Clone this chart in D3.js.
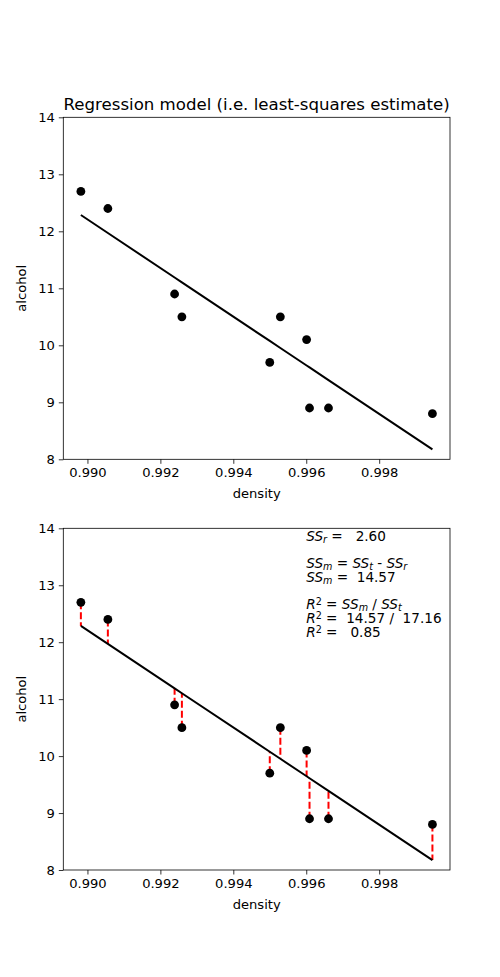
<!DOCTYPE html>
<html>
<head>
<meta charset="utf-8">
<script src="https://cdn.jsdelivr.net/npm/d3@7"></script>
<style>
  body { margin: 0; background: #fff; }
  svg { display: block; font-family: "DejaVu Sans", sans-serif; }
</style>
</head>
<body>
<div id="chart"></div>
<script>
// samples
var density = [0.98982, 0.99056, 0.99239, 0.99259, 0.99500, 0.99529, 0.99601, 0.99609, 0.99661, 0.99946];
var alcohol = [12.7, 12.4, 10.9, 10.5, 9.7, 10.5, 10.1, 8.9, 8.9, 8.8];
var xTicks = [0.990, 0.992, 0.994, 0.996, 0.998];
var yTicks = [8, 9, 10, 11, 12, 13, 14];

// annotation lines of the second panel (segments: text, italic, sub/sup)
var statLines = [
    [["SS", 1], ["r", 1, "sub"], [" =   2.60"]],
    [],
    [["SS", 1], ["m", 1, "sub"], [" = "], ["SS", 1], ["t", 1, "sub"], [" - "], ["SS", 1], ["r", 1, "sub"]],
    [["SS", 1], ["m", 1, "sub"], [" =  14.57"]],
    [],
    [["R", 1], ["2", 0, "sup"], [" = "], ["SS", 1], ["m", 1, "sub"], [" / "], ["SS", 1], ["t", 1, "sub"]],
    [["R", 1], ["2", 0, "sup"], [" =  14.57 /  17.16"]],
    [["R", 1], ["2", 0, "sup"], [" =   0.85"]]
];

var W = 500, H = 977,
    left = 63.3, right = 450,
    fs = "13.1px",
    panels = [{top: 117.3, bottom: 459.3, title: "Regression model (i.e. least-squares estimate)"},
              {top: 528.3, bottom: 870, residuals: true, stats: true}];

var svg = d3.select("#chart").append("svg")
    .attr("width", W)
    .attr("height", H);

// least-squares fit
var mx = d3.mean(density), my = d3.mean(alcohol);
var sxy = d3.sum(density, function(d, i) { return (d - mx) * (alcohol[i] - my); });
var sxx = d3.sum(density, function(d) { return (d - mx) * (d - mx); });
var slope = sxy / sxx, icpt = my - slope * mx;
function fit(d) { return icpt + slope * d; }

var ext = d3.extent(density), pad = (ext[1] - ext[0]) * 0.05;
var x = d3.scaleLinear().domain([ext[0] - pad, ext[1] + pad]).range([left, right]);

var pts = density.map(function(d, i) { return {x: d, y: alcohol[i]}; });
var sorted = pts.slice().sort(function(a, b) { return a.x - b.x; });

panels.forEach(function(p) {
    var y = d3.scaleLinear().domain([8, 14]).range([p.bottom, p.top]);
    var g = svg.append("g");

    var xa = g.append("g")
        .attr("transform", "translate(0," + p.bottom + ")")
        .call(d3.axisBottom(x).tickValues(xTicks).tickFormat(d3.format(".3f")).tickSize(4.5).tickPadding(4));
    var ya = g.append("g")
        .attr("transform", "translate(" + left + ",0)")
        .call(d3.axisLeft(y).tickValues(yTicks).tickFormat(d3.format("d")).tickSize(4.5).tickPadding(4));
    [xa, ya].forEach(function(a) {
        a.select(".domain").remove();
        a.selectAll(".tick line").attr("stroke", "#000").attr("stroke-width", 0.8);
        a.selectAll(".tick text").attr("fill", "#000")
            .style("font-family", "DejaVu Sans").style("font-size", fs);
    });

    if (p.residuals) {
        g.append("g").selectAll("line")
            .data(pts)
            .enter().append("line")
            .attr("x1", function(d) { return x(d.x); })
            .attr("x2", function(d) { return x(d.x); })
            .attr("y1", function(d) { return y(d.y); })
            .attr("y2", function(d) { return y(fit(d.x)); })
            .attr("stroke", "#ff0000")
            .attr("stroke-width", 2)
            .attr("stroke-dasharray", "7,3");
    }

    g.append("path")
        .datum(sorted)
        .attr("fill", "none")
        .attr("stroke", "#000")
        .attr("stroke-width", 2)
        .attr("d", d3.line()
            .x(function(d) { return x(d.x); })
            .y(function(d) { return y(fit(d.x)); }));

    g.append("g").selectAll("circle")
        .data(pts)
        .enter().append("circle")
        .attr("cx", function(d) { return x(d.x); })
        .attr("cy", function(d) { return y(d.y); })
        .attr("r", 4.4)
        .attr("fill", "#000");

    g.append("rect")
        .attr("x", left).attr("y", p.top)
        .attr("width", right - left).attr("height", p.bottom - p.top)
        .attr("fill", "none").attr("stroke", "#000").attr("stroke-width", 0.8);

    g.append("text")
        .attr("x", (left + right) / 2)
        .attr("y", p.bottom + 38.5)
        .attr("text-anchor", "middle")
        .style("font-size", fs)
        .text("density");

    g.append("text")
        .attr("transform", "translate(26," + (p.top + p.bottom) / 2 + ") rotate(-90)")
        .attr("text-anchor", "middle")
        .style("font-size", fs)
        .text("alcohol");

    if (p.title) {
        g.append("text")
            .attr("x", (left + right) / 2)
            .attr("y", p.top - 7)
            .attr("text-anchor", "middle")
            .style("font-size", "16.6px")
            .text(p.title);
    }

    if (p.stats) {
        var tx = x(0.996), ty = y(14) + 12.8;
        statLines.forEach(function(line, li) {
            var t = g.append("text")
                .attr("x", tx)
                .attr("y", ty + li * 13.65)
                .attr("xml:space", "preserve")
                .style("white-space", "pre")
                .style("font-size", "13.6px");
            line.forEach(function(s) {
                var sp = t.append("tspan").text(s[0]);
                if (s[1]) sp.style("font-style", "oblique");
                if (s[2] === "sub") sp.attr("baseline-shift", "-20%").style("font-size", "9.6px");
                if (s[2] === "sup") sp.attr("baseline-shift", "40%").style("font-size", "9.6px");
            });
        });
    }
});
</script>
</body>
</html>
